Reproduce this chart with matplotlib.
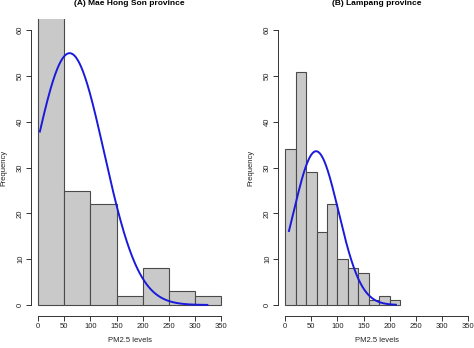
import matplotlib.pyplot as plt
import numpy as np

plt.rcParams["font.family"] = ["Liberation Sans", "DejaVu Sans"]

# histogram bins and counts for each province
mhs_edges = [0, 50, 100, 150, 200, 250, 300, 350]
mhs_counts = [120, 25, 22, 2, 8, 3, 2]
mhs_mean, mhs_sd = 60, 66
mhs_range = (3, 324)

lp_edges = [0, 20, 40, 60, 80, 100, 120, 140, 160, 180, 200, 220]
lp_counts = [34, 51, 29, 16, 22, 10, 8, 7, 1, 2, 1]
lp_mean, lp_sd = 59, 43
lp_range = (7, 212)

x_ticks = [0, 50, 100, 150, 200, 250, 300, 350]
y_ticks = [0, 10, 20, 30, 40, 50, 60]


def draw_panel(ax, edges, counts, mean, sd, xr, title):
    edges = np.array(edges)
    counts = np.array(counts)
    widths = np.diff(edges)
    ax.bar(edges[:-1], counts, width=widths, align="edge",
           color="#c9c9c9", edgecolor="#4a4a4a", linewidth=0.8)

    # fitted normal curve scaled to counts
    n = counts.sum()
    bw = widths[0]
    xs = np.linspace(xr[0], xr[1], 300)
    ys = n * bw * np.exp(-(xs - mean) ** 2 / (2 * sd ** 2)) / (sd * np.sqrt(2 * np.pi))
    ax.plot(xs, ys, color="#1a1adb", linewidth=1.4)

    ax.set_xlim(-14, 364)
    ax.set_ylim(-2.4, 62.4)
    for s in ["top", "right"]:
        ax.spines[s].set_visible(False)
    ax.spines["left"].set_bounds(0, 60)
    ax.spines["bottom"].set_bounds(0, 350)
    for s in ["left", "bottom"]:
        ax.spines[s].set_linewidth(0.7)
        ax.spines[s].set_color("#333333")

    ax.set_xticks(x_ticks)
    ax.set_yticks(y_ticks)
    ax.tick_params(length=3.5, width=0.7, color="#333333", labelsize=5.5,
                   pad=1.5, labelcolor="#222222")
    for lbl in ax.get_yticklabels():
        lbl.set_rotation(90)
        lbl.set_va("center")

    ax.set_xlabel("PM2.5 levels", fontsize=5.5, labelpad=5, color="#222222")
    ax.set_ylabel("Frequency", fontsize=5.5, labelpad=7, color="#222222")
    ax.set_title(title, fontsize=6, fontweight="bold", pad=10)


fig = plt.figure(figsize=(4.74, 3.48), dpi=100)
ax1 = fig.add_axes([0.0654, 0.092, 0.4162, 0.8525])
ax2 = fig.add_axes([0.5865, 0.092, 0.4162, 0.8525])

draw_panel(ax1, mhs_edges, mhs_counts, mhs_mean, mhs_sd, mhs_range,
           "(A) Mae Hong Son province")
draw_panel(ax2, lp_edges, lp_counts, lp_mean, lp_sd, lp_range,
           "(B) Lampang province")

fig.savefig("out.png", dpi=100)
